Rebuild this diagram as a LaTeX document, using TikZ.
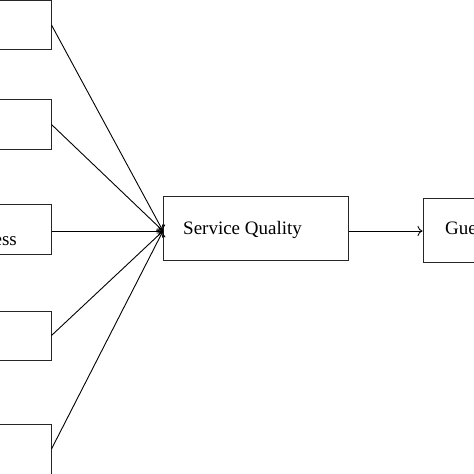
\documentclass[tikz,border=0pt]{standalone}
\usepackage{fontspec}
\setmainfont{Liberation Serif}
\usetikzlibrary{arrows.meta}
\begin{document}
\begin{tikzpicture}[x=1pt,y=-1pt,
  box/.style={draw=black!85, line width=1pt, inner sep=0pt},
  conn/.style={draw=black, line width=0.9pt, -{To[length=5pt,width=10pt]}},
  lbl/.style={font=\fontsize{19}{22}\selectfont, inner sep=0pt}]
\useasboundingbox (0,0) rectangle (474,474);
\clip (0,0) rectangle (474,474);
% left boxes
\node[box, minimum width=111pt, minimum height=49.5pt] (b1) at (-4.5,25) {};
\node[box, minimum width=111pt, minimum height=50pt] (b2) at (-4.5,124.5) {};
\node[box, minimum width=111pt, minimum height=50pt] (b3) at (-4.5,229.5) {};
\node[box, minimum width=111pt, minimum height=49pt] (b4) at (-4.5,335.5) {};
\node[box, minimum width=111pt, minimum height=50pt] (b5) at (-4.5,449) {};
\node[lbl, anchor=base east] (t3) at (17,245) {ess};
% service quality
\node[box, minimum width=185pt, minimum height=64pt] (sq) at (255.5,228) {};
\node[lbl, anchor=base west] (tsq) at (183,234.5) {Service Quality};
% guest box
\node[box, minimum width=120pt, minimum height=64pt] (gs) at (483,230) {};
\node[lbl, anchor=base west] (tgs) at (445,234) {Gue};
% connectors
\coordinate (t) at (163,231);
\draw[conn] (b1.east) -- (t);
\draw[conn] (b2.east) -- (t);
\draw[conn] (b3.east |- t) -- (t);
\draw[conn] (b4.east) -- (t);
\draw[conn] (b5.east) -- (t);
\draw[conn] (sq.east |- t) -- (gs.west |- t);
\end{tikzpicture}
\end{document}
